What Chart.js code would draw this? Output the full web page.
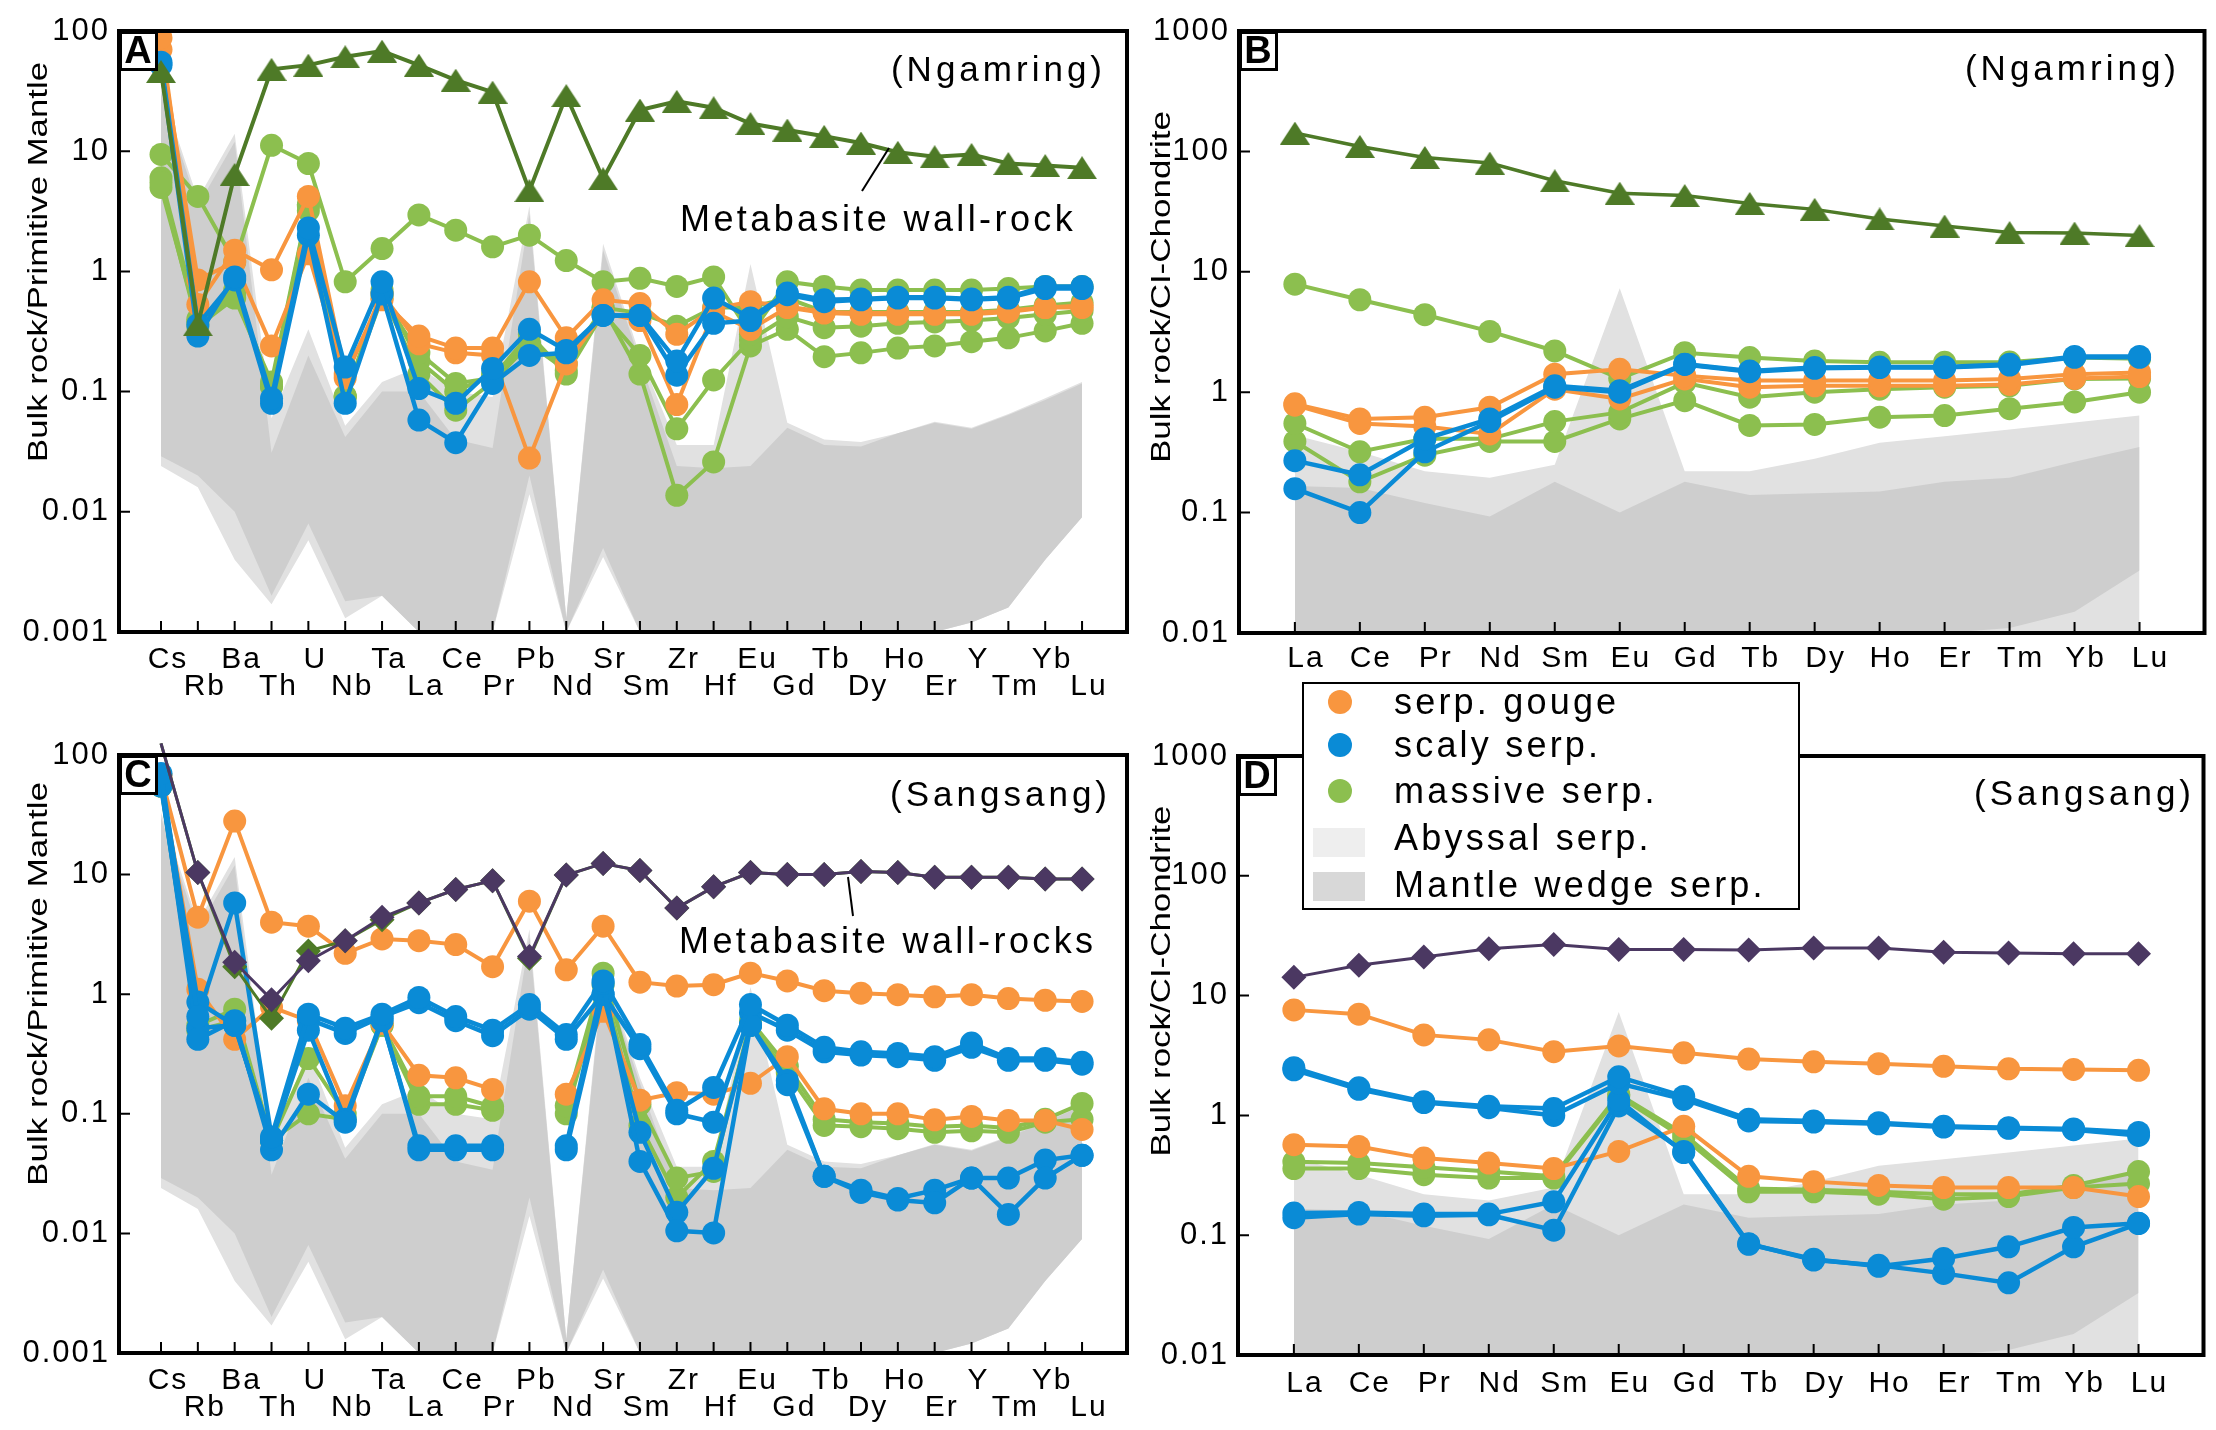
<!DOCTYPE html>
<html>
<head>
<meta charset="utf-8">
<script src="https://cdn.jsdelivr.net/npm/chart.js@4.4.1/dist/chart.umd.min.js"></script>
<style>
  html, body { margin: 0; padding: 0; background: #fff; }
  body { width: 2216px; height: 1430px; position: relative; overflow: hidden; font-family: "Liberation Sans", Arial, sans-serif; }
  canvas { position: absolute; }
  #legend { position: absolute; left: 1302px; top: 682px; width: 494px; height: 224px; border: 2px solid #000; background: #fff; z-index: 5; }
  #legend .dot { position: absolute; left: 24px; width: 24px; height: 24px; border-radius: 50%; }
  #legend .sw { position: absolute; left: 9px; width: 52px; height: 29px; }
  #legend .lbl { position: absolute; left: 90px; height: 40px; line-height: 40px; font-size: 36px; letter-spacing: 3.2px; white-space: nowrap; color: #000; }
</style>
</head>
<body>
<canvas id="chA" width="1140" height="710" style="left:0;top:0"></canvas>
<canvas id="chB" width="1076" height="710" style="left:1140px;top:0"></canvas>
<canvas id="chC" width="1140" height="710" style="left:0;top:720px"></canvas>
<canvas id="chD" width="1076" height="710" style="left:1140px;top:720px"></canvas>

<div id="legend">
  <div class="dot" style="top:6px;background:#F8963F"></div><div class="lbl" style="top:-2px">serp. gouge</div>
  <div class="dot" style="top:49px;background:#0A8BD6"></div><div class="lbl" style="top:41px">scaly serp.</div>
  <div class="dot" style="top:95px;background:#8CBF4F"></div><div class="lbl" style="top:87px">massive serp.</div>
  <div class="sw" style="top:144px;background:#eeeeee"></div><div class="lbl" style="top:134px">Abyssal serp.</div>
  <div class="sw" style="top:188px;background:#d8d8d8"></div><div class="lbl" style="top:181px">Mantle wedge serp.</div>
</div>

<script>
// categories
const traceElements = ['Cs','Rb','Ba','Th','U','Nb','Ta','La','Ce','Pr','Pb','Nd','Sr','Sm','Zr','Hf','Eu','Gd','Tb','Dy','Ho','Er','Y','Tm','Yb','Lu'];
const reeElements = ['La','Ce','Pr','Nd','Sm','Eu','Gd','Tb','Dy','Ho','Er','Tm','Yb','Lu'];
const traceTicks = [100, 10, 1, 0.1, 0.01, 0.001];
const reeTicks = [1000, 100, 10, 1, 0.1, 0.01];

// reference fields (shaded)
const abyssalTraceHigh = [33, 4, 14, 0.06, 0.33, 0.052, 0.12, 0.16, 0.1, 0.09, 3.5, 0.0013, 1.7, 0.2, 0.036, 0.036, 1.15, 0.055, 0.04, 0.038, 0.045, 0.056, 0.05, 0.065, 0.088, 0.12];
const abyssalTraceLow = [0.024, 0.016, 0.004, 0.0017, 0.0058, 0.0013, 0.002, 0.001, 0.001, 0.001, 0.014, 0.001, 0.0042, 0.001, 0.001, 0.001, 0.001, 0.001, 0.001, 0.001, 0.001, 0.001, 0.0012, 0.0016, 0.004, 0.009];
const wedgeTraceHigh = [30, 3.5, 12, 0.031, 0.2, 0.042, 0.1, 0.1, 0.04, 0.034, 3.0, 0.0013, 1.5, 0.18, 0.024, 0.023, 0.024, 0.05, 0.036, 0.035, 0.045, 0.055, 0.049, 0.064, 0.085, 0.117];
const wedgeTraceLow = [0.029, 0.02, 0.01, 0.002, 0.008, 0.0018, 0.002, 0.001, 0.001, 0.001, 0.02, 0.001, 0.005, 0.001, 0.001, 0.001, 0.001, 0.001, 0.001, 0.001, 0.001, 0.001, 0.0012, 0.0016, 0.004, 0.009];
const abyssalReeHigh = [0.44, 0.32, 0.22, 0.195, 0.25, 7.3, 0.22, 0.22, 0.28, 0.38, 0.43, 0.49, 0.56, 0.64];
const abyssalReeLow = [0.01, 0.01, 0.01, 0.01, 0.01, 0.01, 0.01, 0.01, 0.01, 0.01, 0.01, 0.01, 0.01, 0.01];
const wedgeReeHigh = [0.166, 0.16, 0.12, 0.093, 0.18, 0.1, 0.18, 0.14, 0.145, 0.15, 0.18, 0.195, 0.265, 0.35];
const wedgeReeLow = [0.01, 0.01, 0.01, 0.01, 0.01, 0.01, 0.01, 0.01, 0.01, 0.01, 0.01, 0.011, 0.015, 0.033];

// A: Ngamring, primitive mantle normalised
const ngTraceWall = [46, 0.36, 6.4, 48, 52, 61, 68, 52, 39, 31, 4.7, 29, 5.9, 22, 26, 23, 17, 15, 13.3, 11.7, 9.8, 9.0, 9.4, 7.9, 7.6, 7.3];
const ngTraceGouge1 = [88, 0.53, 1.5, 1.03, 4.2, 0.14, 0.58, 0.29, 0.23, 0.23, 0.82, 0.28, 0.58, 0.54, 0.3, 0.49, 0.56, 0.51, 0.46, 0.45, 0.45, 0.45, 0.45, 0.47, 0.5, 0.52];
const ngTraceGouge2 = [70, 0.85, 1.2, 0.24, 1.4, 0.13, 0.65, 0.25, 0.21, 0.2, 0.028, 0.17, 0.45, 0.39, 0.078, 0.46, 0.33, 0.5, 0.45, 0.44, 0.44, 0.44, 0.44, 0.46, 0.5, 0.5];
const ngTraceScaly1 = [52, 0.29, 0.9, 0.088, 2.3, 0.16, 0.82, 0.106, 0.08, 0.156, 0.33, 0.22, 0.43, 0.43, 0.18, 0.6, 0.41, 0.66, 0.58, 0.59, 0.61, 0.61, 0.59, 0.61, 0.75, 0.75];
const ngTraceScaly2 = [55, 0.36, 0.85, 0.08, 2.0, 0.08, 0.65, 0.058, 0.0376, 0.117, 0.2, 0.21, 0.43, 0.43, 0.137, 0.37, 0.39, 0.64, 0.56, 0.58, 0.6, 0.6, 0.58, 0.6, 0.72, 0.72];
const ngTraceMassive1 = [9.4, 4.2, 1.2, 11.2, 7.9, 0.82, 1.55, 2.95, 2.2, 1.6, 2.0, 1.23, 0.82, 0.875, 0.75, 0.9, 0.3, 0.82, 0.75, 0.7, 0.7, 0.7, 0.7, 0.72, 0.75, 0.75];
const ngTraceMassive2 = [5.5, 0.35, 0.6, 0.12, 3.6, 0.092, 0.6, 0.21, 0.117, 0.13, 0.3, 0.14, 0.45, 0.2, 0.049, 0.125, 0.27, 0.42, 0.34, 0.35, 0.37, 0.38, 0.39, 0.41, 0.44, 0.47];
const ngTraceMassive3 = [6, 0.4, 0.7, 0.11, 3.2, 0.09, 0.65, 0.14, 0.07, 0.12, 0.25, 0.15, 0.5, 0.14, 0.0137, 0.026, 0.24, 0.33, 0.195, 0.21, 0.23, 0.24, 0.26, 0.28, 0.32, 0.37];
const ngTraceMassive4 = [5, 0.38, 0.65, 0.11, 3.5, 0.09, 0.7, 0.18, 0.1, 0.14, 0.25, 0.17, 0.5, 0.45, 0.35, 0.5, 0.5, 0.6, 0.46, 0.46, 0.46, 0.46, 0.46, 0.48, 0.52, 0.55];

// B: Ngamring, chondrite normalised
const ngReeWall = [142, 110, 89, 80, 57, 45, 43, 37, 33, 27.5, 24, 21.2, 21, 20];
const ngReeGouge1 = [0.8, 0.6, 0.62, 0.75, 1.41, 1.55, 1.37, 1.25, 1.25, 1.25, 1.25, 1.29, 1.41, 1.46];
const ngReeGouge2 = [0.78, 0.55, 0.52, 0.45, 1.06, 0.88, 1.29, 1.1, 1.13, 1.13, 1.13, 1.16, 1.3, 1.35];
const ngReeScaly1 = [0.27, 0.206, 0.41, 0.6, 1.13, 1.03, 1.71, 1.5, 1.6, 1.62, 1.62, 1.71, 1.98, 1.98];
const ngReeScaly2 = [0.158, 0.1, 0.32, 0.57, 1.1, 1.0, 1.7, 1.48, 1.58, 1.6, 1.6, 1.68, 1.95, 1.95];
const ngReeMassive1 = [7.9, 5.86, 4.4, 3.2, 2.2, 1.3, 2.13, 1.94, 1.82, 1.77, 1.77, 1.78, 1.94, 1.9];
const ngReeMassive2 = [0.55, 0.32, 0.41, 0.41, 0.57, 0.68, 1.2, 0.91, 1.0, 1.06, 1.1, 1.13, 1.29, 1.3];
const ngReeMassive3 = [0.39, 0.18, 0.3, 0.39, 0.39, 0.6, 0.85, 0.53, 0.54, 0.62, 0.64, 0.73, 0.83, 1.0];

// C: Sangsang, primitive mantle normalised
const ssTraceWall = [125, 10.4, 1.85, 0.9, 1.9, 2.8, 4.4, 5.8, 7.5, 8.9, 2.07, 9.9, 12.4, 10.8, 5.25, 7.9, 10.4, 10, 10, 10.6, 10.4, 9.5, 9.5, 9.5, 9.2, 9.2];
const ssTraceWall2 = [125, 10.4, 1.7, 0.63, 2.3, 2.8, 4.2, 5.8, 7.5, 8.9, 2.0, 9.9, 12.4, 10.8, 5.25, 7.9, 10.4, 10, 10, 10.6, 10.4, 9.5, 9.5, 9.5, 9.2, 9.2];
const ssTraceGouge1 = [67, 4.4, 28, 4.0, 3.7, 2.2, 2.9, 2.8, 2.6, 1.7, 6.0, 1.6, 3.7, 1.26, 1.17, 1.2, 1.5, 1.29, 1.07, 1.02, 0.99, 0.95, 0.99, 0.92, 0.89, 0.87];
const ssTraceGouge2 = [60, 1.1, 0.42, 0.78, 0.6, 0.117, 0.57, 0.21, 0.2, 0.16, null, 0.146, 0.72, 0.13, 0.15, 0.146, 0.18, 0.3, 0.11, 0.1, 0.1, 0.089, 0.095, 0.088, 0.088, 0.074];
const ssTraceScaly1 = [70, 0.65, 5.8, 0.064, 0.68, 0.52, 0.68, 0.94, 0.65, 0.5, 0.82, 0.46, 1.29, 0.38, 0.107, 0.166, 0.82, 0.55, 0.36, 0.33, 0.32, 0.3, 0.39, 0.29, 0.29, 0.27];
const ssTraceScaly2 = [60, 0.42, 0.6, 0.05, 0.146, 0.085, 0.6, 0.054, 0.054, 0.054, null, 0.054, 1.23, 0.04, 0.0105, 0.0101, 0.55, 0.175, 0.03, 0.022, 0.019, 0.018, 0.029, 0.0144, 0.029, 0.045];
const ssTraceScaly3 = [55, 0.52, 0.55, 0.06, 0.5, 0.09, 0.62, 0.05, 0.05, 0.05, null, 0.05, 1.0, 0.07, 0.015, 0.035, 0.55, 0.19, 0.03, 0.023, 0.0196, 0.023, 0.029, 0.029, 0.041, 0.045];
const ssTraceScaly4 = [60, 0.86, 0.55, 0.06, 0.62, 0.47, 0.65, 0.85, 0.6, 0.45, 0.75, 0.42, 1.0, 0.35, 0.1, 0.085, 0.7, 0.5, 0.33, 0.31, 0.3, 0.28, 0.36, 0.28, 0.28, 0.26];
const ssTraceMassive1 = [55, 0.55, 0.75, 0.06, 0.29, 0.1, 0.55, 0.14, 0.14, 0.115, null, 0.117, 1.5, 0.12, 0.029, 0.033, 0.6, 0.25, 0.09, 0.085, 0.083, 0.078, 0.08, 0.076, 0.09, 0.122];
const ssTraceMassive2 = [55, 0.5, 0.6, 0.06, 0.1, 0.09, 0.55, 0.12, 0.12, 0.107, null, 0.1, 1.2, 0.08, 0.02, 0.04, 0.55, 0.22, 0.08, 0.078, 0.075, 0.07, 0.072, 0.07, 0.085, 0.09];

// D: Sangsang, chondrite normalised
const ssReeWall = [14.2, 17.9, 21, 24.6, 26.7, 24.3, 24.3, 24, 25, 25, 23, 22.7, 22.3, 22.3];
const ssReeGouge1 = [7.6, 7.0, 4.7, 4.27, 3.4, 3.8, 3.33, 2.95, 2.8, 2.7, 2.57, 2.45, 2.42, 2.38];
const ssReeGouge2 = [0.57, 0.55, 0.44, 0.4, 0.36, 0.5, 0.81, 0.31, 0.28, 0.26, 0.25, 0.25, 0.25, 0.21];
const ssReeScaly1 = [2.5, 1.7, 1.3, 1.19, 1.14, 2.1, 1.44, 0.93, 0.9, 0.87, 0.81, 0.79, 0.77, 0.72];
const ssReeScaly2 = [2.4, 1.65, 1.28, 1.16, 1.0, 1.85, 1.36, 0.9, 0.88, 0.85, 0.8, 0.78, 0.76, 0.68];
const ssReeScaly3 = [0.153, 0.155, 0.15, 0.15, 0.19, 1.34, 0.49, 0.084, 0.063, 0.055, 0.064, 0.08, 0.116, 0.126];
const ssReeScaly4 = [0.14, 0.15, 0.145, 0.148, 0.11, 1.2, 0.5, 0.085, 0.062, 0.056, 0.048, 0.04, 0.08, 0.125];
const ssReeMassive1 = [0.41, 0.4, 0.37, 0.34, 0.31, 1.5, 0.7, 0.245, 0.24, 0.23, 0.22, 0.22, 0.26, 0.34];
const ssReeMassive2 = [0.36, 0.36, 0.32, 0.3, 0.3, 1.45, 0.65, 0.23, 0.23, 0.22, 0.2, 0.21, 0.25, 0.27];

const ORANGE = '#F8963F', BLUE = '#0A8BD6', GREEN = '#8CBF4F', DKGREEN = '#4E7A27', PURPLE = '#4B3862';
const LIGHTGRAY = '#e1e1e1', MIDGRAY = '#cecece';
const FONT = '"Liberation Sans", Arial, sans-serif';

Chart.defaults.font.family = FONT;
Chart.defaults.color = '#000';

function pts(values) {
    return values.map((v, i) => ({ x: i, y: v }));
}

function series(values, color, order, extra) {
    return Object.assign({
        data: pts(values),
        borderColor: color,
        backgroundColor: color,
        pointBackgroundColor: color,
        pointBorderWidth: 0,
        pointRadius: 11.5,
        borderWidth: 4,
        fill: false,
        order: order
    }, extra || {});
}

function band(high, low, color, order) {
    return [
        { data: pts(high), borderWidth: 0, borderColor: 'rgba(0,0,0,0)', pointRadius: 0, fill: '+1', backgroundColor: color, order: order },
        { data: pts(low), borderWidth: 0, borderColor: 'rgba(0,0,0,0)', pointRadius: 0, fill: false, order: order }
    ];
}

// flat triangle marker for the metabasite in Ngamring
function triangleMark(w, h, color) {
    const c = document.createElement('canvas');
    c.width = w; c.height = h;
    const g = c.getContext('2d');
    g.fillStyle = color;
    g.beginPath();
    g.moveTo(w / 2, 0);
    g.lineTo(w, h);
    g.lineTo(0, h);
    g.closePath();
    g.fill();
    return c;
}
const tri = triangleMark(30, 23, DKGREEN);

// diamonds everywhere except the off-scale Cs point
const wallRadius = traceElements.map((c, i) => (i === 0 ? 0 : 12.5));

function decor(cfg) {
    return {
        id: 'decor',
        beforeDraw(chart) {
            chart.ctx.letterSpacing = '2px';
        },
        afterDraw(chart) {
            const { ctx, chartArea: a, scales } = chart;
            ctx.save();
            ctx.letterSpacing = '0px';

            // inward tick marks
            ctx.strokeStyle = '#000';
            ctx.lineWidth = 2;
            ctx.beginPath();
            cfg.cats.forEach((c, i) => {
                const x = scales.x.getPixelForValue(i);
                ctx.moveTo(x, a.bottom);
                ctx.lineTo(x, a.bottom - 11);
            });
            cfg.yTicks.forEach(v => {
                const y = scales.y.getPixelForValue(v);
                ctx.moveTo(a.left, y);
                ctx.lineTo(a.left + 11, y);
            });
            ctx.stroke();

            // frame
            ctx.lineWidth = 4;
            ctx.strokeRect(a.left, a.top, a.right - a.left, a.bottom - a.top);

            // panel letter
            ctx.fillStyle = '#fff';
            ctx.fillRect(a.left, a.top, 38, 40);
            ctx.lineWidth = 3;
            ctx.strokeRect(a.left + 1.5, a.top + 1.5, 36, 37);
            ctx.fillStyle = '#000';
            ctx.font = 'bold 38px ' + FONT;
            ctx.textAlign = 'center';
            ctx.textBaseline = 'middle';
            ctx.fillText(cfg.letter, a.left + 19, a.top + 22);

            // y axis title, stretched to the reference length
            ctx.save();
            ctx.translate(cfg.titleX, cfg.titleY);
            ctx.rotate(-Math.PI / 2);
            ctx.font = '27px ' + FONT;
            const w = ctx.measureText(cfg.title).width;
            ctx.scale(cfg.titleLen / w, 1);
            ctx.fillText(cfg.title, 0, 0);
            ctx.restore();

            // site name
            ctx.font = '35px ' + FONT;
            ctx.letterSpacing = '4px';
            ctx.textAlign = 'right';
            ctx.fillText(cfg.site, cfg.siteX + 4, cfg.siteY);

            // wall-rock note
            if (cfg.note) {
                ctx.font = '36px ' + FONT;
                ctx.letterSpacing = '3.4px';
                ctx.textAlign = 'left';
                ctx.fillText(cfg.note, cfg.noteX, cfg.noteY);
                ctx.lineWidth = 2;
                ctx.beginPath();
                ctx.moveTo(cfg.leader[0], cfg.leader[1]);
                ctx.lineTo(cfg.leader[2], cfg.leader[3]);
                ctx.stroke();
            }
            ctx.restore();
        }
    };
}

function makePanel(id, cfg) {
    new Chart(document.getElementById(id).getContext('2d'), {
        type: 'line',
        data: { datasets: cfg.datasets },
        options: {
            responsive: false,
            devicePixelRatio: 1,
            animation: false,
            layout: { padding: { top: cfg.padTop, right: cfg.padRight, left: 0, bottom: 0 } },
            plugins: { legend: { display: false }, tooltip: { enabled: false } },
            scales: {
                x: {
                    type: 'linear',
                    min: cfg.xMin,
                    max: cfg.xMax,
                    grid: { display: false, drawTicks: false },
                    border: { display: false },
                    afterBuildTicks: s => { s.ticks = cfg.cats.map((c, i) => ({ value: i })); },
                    afterFit: s => { s.height = cfg.xHeight; },
                    ticks: {
                        autoSkip: false,
                        maxRotation: 0,
                        minRotation: 0,
                        padding: cfg.labelPad,
                        labelOffset: cfg.labelOffset,
                        font: { size: 30, lineHeight: 0.9 },
                        color: '#000',
                        callback: v => {
                            const name = cfg.cats[Math.round(v)] || '';
                            if (!cfg.twoRow) return name;
                            return Math.round(v) % 2 === 0 ? [name, ''] : ['', name];
                        }
                    }
                },
                y: {
                    type: 'logarithmic',
                    min: cfg.yMin,
                    max: cfg.yMax,
                    grid: { display: false, drawTicks: false },
                    border: { display: false },
                    afterBuildTicks: s => { s.ticks = cfg.yTicks.map(v => ({ value: v })); },
                    afterFit: s => { s.width = cfg.yWidth; },
                    ticks: {
                        padding: 9,
                        font: { size: 31 },
                        color: '#000',
                        callback: v => String(v)
                    }
                }
            }
        },
        plugins: [decor(cfg)]
    });
}

const traceShade = () => band(abyssalTraceHigh, abyssalTraceLow, LIGHTGRAY, 21).concat(band(wedgeTraceHigh, wedgeTraceLow, MIDGRAY, 20));
const reeShade = () => band(abyssalReeHigh, abyssalReeLow, LIGHTGRAY, 21).concat(band(wedgeReeHigh, wedgeReeLow, MIDGRAY, 20));

makePanel('chA', {
    cats: traceElements, twoRow: true, yTicks: traceTicks, yMin: 0.001, yMax: 100,
    xMin: -1.14, xMax: 26.22, yWidth: 119, xHeight: 78, padTop: 31, padRight: 13,
    labelOffset: 7, labelPad: 14,
    letter: 'A', title: 'Bulk rock/Primitive Mantle', titleX: 40, titleY: 262, titleLen: 400,
    site: '(Ngamring)', siteX: 1102, siteY: 71,
    note: 'Metabasite wall-rock', noteX: 680, noteY: 221, leader: [862, 191, 889, 148],
    datasets: traceShade().concat([
        series(ngTraceMassive1, GREEN, 3),
        series(ngTraceMassive2, GREEN, 3),
        series(ngTraceMassive3, GREEN, 3),
        series(ngTraceMassive4, GREEN, 3),
        series(ngTraceGouge1, ORANGE, 2),
        series(ngTraceGouge2, ORANGE, 2),
        series(ngTraceScaly1, BLUE, 1, { borderWidth: 4.5 }),
        series(ngTraceScaly2, BLUE, 1, { borderWidth: 4.5 }),
        series(ngTraceWall, DKGREEN, 0, { pointStyle: tri, borderWidth: 4 })
    ])
});

makePanel('chB', {
    cats: reeElements, twoRow: false, yTicks: reeTicks, yMin: 0.01, yMax: 1000,
    xMin: -0.86, xMax: 14.0, yWidth: 99, xHeight: 77, padTop: 31, padRight: 8,
    labelOffset: 11, labelPad: 12,
    letter: 'B', title: 'Bulk rock/CI-Chondrite', titleX: 23, titleY: 287, titleLen: 352,
    site: '(Ngamring)', siteX: 1036, siteY: 70,
    datasets: reeShade().concat([
        series(ngReeMassive1, GREEN, 3),
        series(ngReeMassive2, GREEN, 3),
        series(ngReeMassive3, GREEN, 3),
        series(ngReeGouge1, ORANGE, 2),
        series(ngReeGouge2, ORANGE, 2),
        series(ngReeScaly1, BLUE, 1, { borderWidth: 4.5 }),
        series(ngReeScaly2, BLUE, 1, { borderWidth: 4.5 }),
        series(ngReeWall, DKGREEN, 0, { pointStyle: tri, borderWidth: 3.5 })
    ])
});

makePanel('chC', {
    cats: traceElements, twoRow: true, yTicks: traceTicks, yMin: 0.001, yMax: 100,
    xMin: -1.14, xMax: 26.22, yWidth: 119, xHeight: 77, padTop: 35, padRight: 13,
    labelOffset: 7, labelPad: 14,
    letter: 'C', title: 'Bulk rock/Primitive Mantle', titleX: 40, titleY: 264, titleLen: 404,
    site: '(Sangsang)', siteX: 1107, siteY: 76,
    note: 'Metabasite wall-rocks', noteX: 679, noteY: 223, leader: [848, 157, 853, 196],
    datasets: traceShade().concat([
        series(ssTraceMassive1, GREEN, 3),
        series(ssTraceMassive2, GREEN, 3),
        series(ssTraceGouge1, ORANGE, 2),
        series(ssTraceGouge2, ORANGE, 2),
        series(ssTraceScaly1, BLUE, 1, { borderWidth: 4.5 }),
        series(ssTraceScaly2, BLUE, 1, { borderWidth: 4.5 }),
        series(ssTraceScaly3, BLUE, 1, { borderWidth: 4.5 }),
        series(ssTraceScaly4, BLUE, 1, { borderWidth: 4.5 }),
        series(ssTraceWall2, DKGREEN, 0.5, { pointStyle: 'rectRot', pointRadius: wallRadius, borderWidth: 3, clip: false }),
        series(ssTraceWall, PURPLE, 0, { pointStyle: 'rectRot', pointRadius: wallRadius, borderWidth: 3, clip: false })
    ])
});

makePanel('chD', {
    cats: reeElements, twoRow: false, yTicks: reeTicks, yMin: 0.01, yMax: 1000,
    xMin: -0.86, xMax: 14.0, yWidth: 98, xHeight: 75, padTop: 36, padRight: 8,
    labelOffset: 11, labelPad: 15,
    letter: 'D', title: 'Bulk rock/CI-Chondrite', titleX: 23, titleY: 261, titleLen: 351,
    site: '(Sangsang)', siteX: 1051, siteY: 75,
    datasets: reeShade().concat([
        series(ssReeMassive1, GREEN, 3),
        series(ssReeMassive2, GREEN, 3),
        series(ssReeGouge1, ORANGE, 2),
        series(ssReeGouge2, ORANGE, 2),
        series(ssReeScaly1, BLUE, 1, { borderWidth: 4.5 }),
        series(ssReeScaly2, BLUE, 1, { borderWidth: 4.5 }),
        series(ssReeScaly3, BLUE, 1, { borderWidth: 4.5 }),
        series(ssReeScaly4, BLUE, 1, { borderWidth: 4.5 }),
        series(ssReeWall, PURPLE, 0, { pointStyle: 'rectRot', pointRadius: 12.5, borderWidth: 3 })
    ])
});
</script>
</body>
</html>
